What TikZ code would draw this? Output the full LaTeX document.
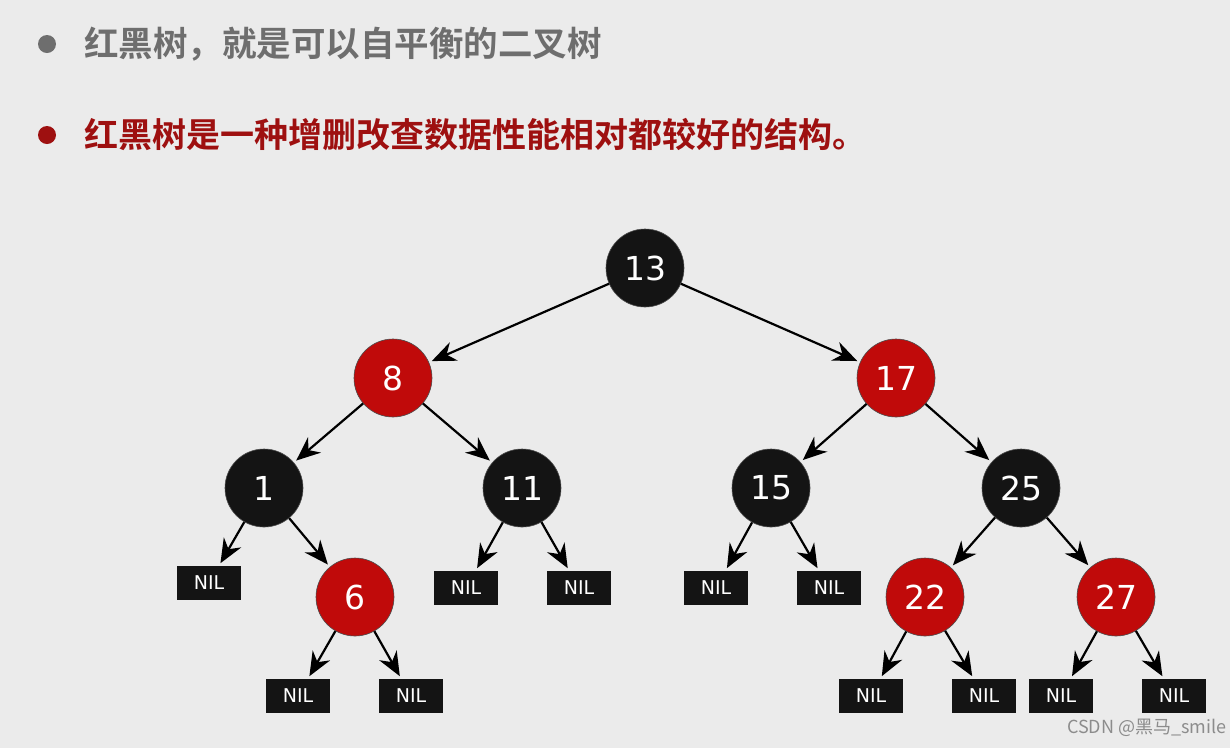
\documentclass[tikz,border=0pt]{standalone}
\usepackage{fontspec}
\setmainfont{DejaVu Sans}
\newfontfamily\cjk{Noto Sans CJK SC}
\newfontfamily\cjkb{Noto Sans CJK SC Bold}
\usetikzlibrary{arrows.meta}
\definecolor{bg}{HTML}{EBEBEB}
\definecolor{rb}{HTML}{C00A0A}
\definecolor{tred}{HTML}{9E1010}
\definecolor{tgray}{HTML}{6E6E6E}
\begin{document}
\begin{tikzpicture}[x=1pt,y=-1pt,
 rbn/.style={circle,minimum size=78pt,inner sep=0pt,draw=black!70,line width=0.6pt,text=white,font=\fontsize{33}{33}\selectfont},
 blk/.style={rbn,fill=black!92},
 red/.style={rbn,fill=rb},
 nil/.style={fill=black!92,text=white,minimum width=64pt,minimum height=34pt,inner sep=0pt,font=\fontsize{19}{19}\selectfont},
 edge/.style={-{Stealth[length=24pt,width=20pt]},line width=2.2pt,shorten >=3pt}]
\fill[bg] (0,0) rectangle (1230,748);
\useasboundingbox (0,0) rectangle (1230,748);
\fill[tgray] (47,44) circle (9);
\node[anchor=west,text=tgray,font=\cjkb\fontsize{34.5}{34.5}\selectfont,inner sep=0pt] (t1) at (84,44) {红黑树，就是可以自平衡的二叉树};
\fill[tred] (47,135) circle (9);
\node[anchor=west,text=tred,font=\cjkb\fontsize{34}{34}\selectfont,inner sep=0pt] (t2) at (84,135) {红黑树是一种增删改查数据性能相对都较好的结构。};
\node[blk] (n13) at (645,268) {13};
\node[red] (n8) at (393,378) {8};
\node[red] (n17) at (896,378) {17};
\node[blk] (n1) at (264,488) {1};
\node[blk] (n11) at (522,488) {11};
\node[blk] (n15) at (771,488) {15};
\node[blk] (n25) at (1021,488) {25};
\node[red] (n6) at (355,597) {6};
\node[red] (n22) at (925,597) {22};
\node[red] (n27) at (1116,597) {27};
\node[nil] (a1) at (209,583) {NIL};
\node[nil] (a2) at (466,588) {NIL};
\node[nil] (a3) at (579,588) {NIL};
\node[nil] (a4) at (716,588) {NIL};
\node[nil] (a5) at (829,588) {NIL};
\node[nil] (a6) at (298,696) {NIL};
\node[nil] (a7) at (411,696) {NIL};
\node[nil] (a8) at (871,696) {NIL};
\node[nil] (a9) at (984,696) {NIL};
\node[nil] (a10) at (1061,696) {NIL};
\node[nil] (a11) at (1174,696) {NIL};
\foreach \p/\c in {n13/n8,n13/n17,n8/n1,n8/n11,n17/n15,n17/n25,n1/a1,n1/n6,n11/a2,n11/a3,n15/a4,n15/a5,n25/n22,n25/n27,n6/a6,n6/a7,n22/a8,n22/a9,n27/a10,n27/a11}
  \draw[edge] (\p) -- (\c);
\node[anchor=east,text=black!45,font=\cjk\fontsize{18}{18}\selectfont] (wm) at (1230,728) {CSDN @黑马\_smile};
\end{tikzpicture}
\end{document}
